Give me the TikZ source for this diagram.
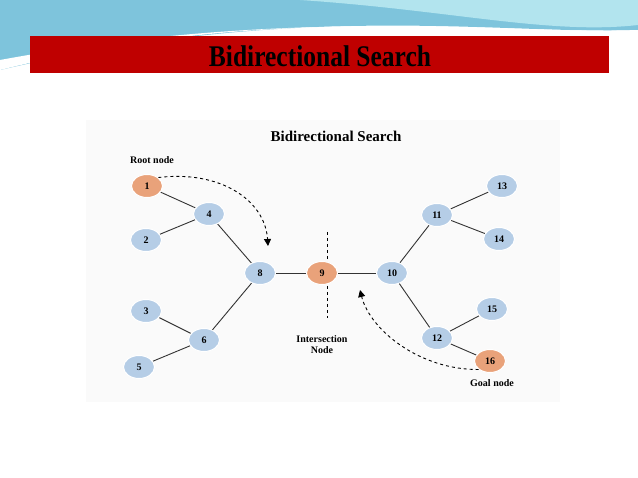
\documentclass[tikz,border=0pt]{standalone}
\usepackage{fontspec}
\setmainfont{Liberation Serif}
\usetikzlibrary{arrows.meta,shapes.geometric}
\begin{document}
\begin{tikzpicture}[x=1pt,y=-1pt,
 nd/.style={ellipse,draw=white,line width=1pt,fill=#1,minimum width=31pt,minimum height=23pt,inner sep=0pt,font=\bfseries\normalsize},
 ln/.style={line width=0.9pt,black!80},
 da/.style={dashed,line width=0.9pt,-{Triangle[length=7pt,width=7pt]}},
 lab/.style={font=\bfseries\fontsize{10}{11}\selectfont,align=center}]
\useasboundingbox (0,0) rectangle (638,478);
\definecolor{bl}{HTML}{B5CDE6}\definecolor{or}{HTML}{E9A27A}
\definecolor{sw}{HTML}{7EC4DC}\definecolor{sw2}{HTML}{B2E4EE}
% top swoosh
\fill[sw] (0,0) -- (638,0) -- (638,30) .. controls (500,35) and (300,0) .. (0,70) -- cycle;
\fill[white] (0,70) .. controls (200,20) and (400,20) .. (450,40) -- (638,40) -- (638,30) .. controls (500,35) and (300,5) .. (0,60) -- cycle;
\fill[sw2] (300,0) .. controls (450,10) and (550,35) .. (638,25) -- (638,0) -- cycle;
\fill[red!75!black] (30,36) rectangle (609,73);
\node[font=\bfseries\fontsize{30}{32}\selectfont,xscale=0.85] (title) at (320,56) {Bidirectional Search};
\fill[black!2] (86,120) rectangle (560,402);
\node[font=\bfseries\fontsize{15}{17}\selectfont] (sub) at (336,136) {Bidirectional Search};
\node[lab] (root) at (152,160) {Root node};
\node[lab] (goal) at (492,383) {Goal node};
\node[lab] (inter) at (322,345) {Intersection\\Node};
\coordinate (vt) at (327,232); \coordinate (vb) at (327,318);
\draw[dashed,line width=0.9pt] (vt) -- (vb);
\node[nd=or] (n1) at (147,186) {1};
\node[nd=bl] (n2) at (146,240) {2};
\node[nd=bl] (n4) at (209,214) {4};
\node[nd=bl] (n3) at (146,311) {3};
\node[nd=bl] (n5) at (139,367) {5};
\node[nd=bl] (n6) at (204,340) {6};
\node[nd=bl] (n8) at (260,273) {8};
\node[nd=or] (n9) at (322,273) {9};
\node[nd=bl] (n10) at (392,273) {10};
\node[nd=bl] (n11) at (437,215) {11};
\node[nd=bl] (n13) at (502,186) {13};
\node[nd=bl] (n14) at (499,239) {14};
\node[nd=bl] (n12) at (437,338) {12};
\node[nd=bl] (n15) at (492,309) {15};
\node[nd=or] (n16) at (490,361) {16};
\foreach \a/\b in {n1/n4,n2/n4,n4/n8,n3/n6,n5/n6,n6/n8,n8/n9,n9/n10,n10/n11,n11/n13,n11/n14,n10/n12,n12/n15,n12/n16}
 \draw[ln] (\a) -- (\b);
\coordinate (a1e) at (268,246);
\coordinate (a2e) at (360,290);
\draw[da] (n1.north east) .. controls (220,170) and (265,200) .. (a1e);
\draw[da] (n16.south west) .. controls (420,370) and (370,330) .. (a2e);
\end{tikzpicture}
\end{document}
